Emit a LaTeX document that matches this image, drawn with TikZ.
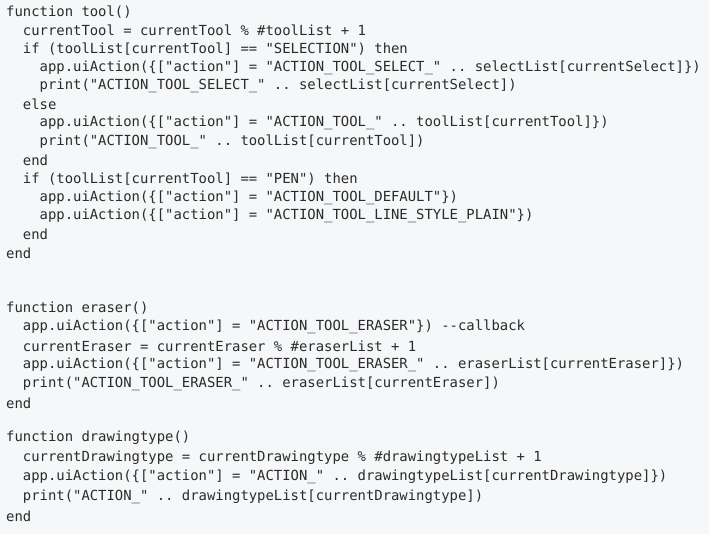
\documentclass[tikz,border=0pt]{standalone}
\usepackage{fontspec}
\setmonofont{DejaVu Sans Mono}
\definecolor{bg}{HTML}{F6F7F8}
\definecolor{fg}{HTML}{2B2B2B}
\begin{document}
\begin{tikzpicture}[x=1bp,y=-1bp,
  codeline/.style={anchor=west,inner sep=0pt,text=fg,font=\ttfamily\fontsize{13.9bp}{16bp}\selectfont}]
\fill[bg] (0,0) rectangle (709,534);
\useasboundingbox (0,0) rectangle (709,534);
\def\blk#1#2#3{%
  \foreach \t [count=\i from 0] in {#3} {\node[codeline] (l#1\i) at (6,#1+\i*#2) {\t};}}
\blk{12}{18.55}{{function tool()},
{\ \ currentTool = currentTool \% \#toolList + 1},
{\ \ if (toolList[currentTool] == "SELECTION") then},
{\ \ \ \ app.uiAction(\{["action"] = "ACTION\_TOOL\_SELECT\_" .. selectList[currentSelect]\})},
{\ \ \ \ print("ACTION\_TOOL\_SELECT\_" .. selectList[currentSelect])},
{\ \ else},
{\ \ \ \ app.uiAction(\{["action"] = "ACTION\_TOOL\_" .. toolList[currentTool]\})},
{\ \ \ \ print("ACTION\_TOOL\_" .. toolList[currentTool])},
{\ \ end},
{\ \ if (toolList[currentTool] == "PEN") then},
{\ \ \ \ app.uiAction(\{["action"] = "ACTION\_TOOL\_DEFAULT"\})},
{\ \ \ \ app.uiAction(\{["action"] = "ACTION\_TOOL\_LINE\_STYLE\_PLAIN"\})},
{\ \ end},
{end}}
\blk{308}{19}{{function eraser()},
{\ \ app.uiAction(\{["action"] = "ACTION\_TOOL\_ERASER"\}) --callback},
{\ \ currentEraser = currentEraser \% \#eraserList + 1},
{\ \ app.uiAction(\{["action"] = "ACTION\_TOOL\_ERASER\_" .. eraserList[currentEraser]\})},
{\ \ print("ACTION\_TOOL\_ERASER\_" .. eraserList[currentEraser])},
{end}}
\blk{438}{19.5}{{function drawingtype()},
{\ \ currentDrawingtype = currentDrawingtype \% \#drawingtypeList + 1},
{\ \ app.uiAction(\{["action"] = "ACTION\_" .. drawingtypeList[currentDrawingtype]\})},
{\ \ print("ACTION\_" .. drawingtypeList[currentDrawingtype])},
{end}}
\end{tikzpicture}
\end{document}
